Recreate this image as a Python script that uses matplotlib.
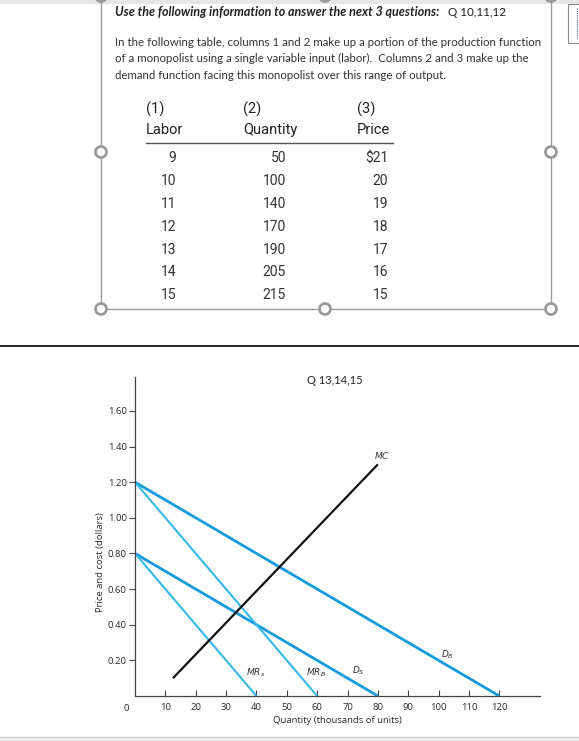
import numpy as np
import matplotlib
matplotlib.use("Agg")
import matplotlib.pyplot as plt
from matplotlib.patches import Circle, Rectangle

# table data (Q 10,11,12)
labor = [9, 10, 11, 12, 13, 14, 15]
quantity = [50, 100, 140, 170, 190, 205, 215]
price = ["$21", "20", "19", "18", "17", "16", "15"]
col_heads = ["(1)", "(2)", "(3)"]
col_names = ["Labor", "Quantity", "Price"]

# chart data (Q 13,14,15), quantity in thousands, price in dollars
db_q = [0, 120]
db_p = [1.20, 0.0]
ds_q = [0, 80]
ds_p = [0.80, 0.0]
mrb_q = [0, 60]
mrb_p = [1.20, 0.0]
mrs_q = [0, 40]
mrs_p = [0.80, 0.0]
mc_q = [12.5, 80]
mc_p = [0.10, 1.30]
xticks = [10, 20, 30, 40, 50, 60, 70, 80, 90, 100, 110, 120]
yticks = [0.20, 0.40, 0.60, 0.80, 1.00, 1.20, 1.40, 1.60]

W, H = 579, 741
fig = plt.figure(figsize=(W / 100, H / 100), dpi=100)

# page layer in pixel coordinates
deco = fig.add_axes([0, 0, 1, 1])
deco.set_xlim(0, W)
deco.set_ylim(H, 0)
deco.axis("off")

grey = "#9a9a9a"
deco.add_patch(Rectangle((0, 0), W, 4, color="#e6e6e6", lw=0))
# slide box
deco.plot([101, 101], [0, 309], color=grey, lw=1)
deco.plot([551, 551], [0, 309], color=grey, lw=1)
deco.plot([101, 551], [309, 309], color=grey, lw=1)
for cx, cy in [(101, 152), (551, 152), (101, 309), (325, 309), (551, 309),
               (101, -4), (325, -4), (551, -4)]:
    deco.add_patch(Circle((cx, cy), 5.5, fc="white", ec=grey, lw=2, zorder=5))
# small box top right
deco.add_patch(Rectangle((568, 4), 14, 39, fc="white", ec="#888888", lw=0.8))
deco.plot([577, 577], [8, 38], color="#3a66c8", lw=0.8, ls=(0, (1, 1)))

tfont = "Lato"
deco.text(115, 12, "Use the following information to answer the next 3 questions:",
          fontsize=9.0, fontweight="bold", fontstyle="italic", family=tfont,
          color="#222222", va="center")
deco.text(448, 12, "Q 10,11,12", fontsize=8.4, family=tfont, color="#222222", va="center")
para = ["In the following table, columns 1 and 2 make up a portion of the production function",
        "of a monopolist using a single variable input (labor).  Columns 2 and 3 make up the",
        "demand function facing this monopolist over this range of output."]
for i, line in enumerate(para):
    deco.text(115, 42 + i * 16.7, line, fontsize=8.25, family=tfont, color="#333333", va="center")

# table
head_x = [146, 243, 357]
right_x = [176, 286, 388]
for hx, h1, h2 in zip(head_x, col_heads, col_names):
    deco.text(hx, 109, h1, fontsize=10.5, family="Roboto", color="#222222", va="center")
    deco.text(hx, 130, h2, fontsize=10.5, family="Roboto", color="#222222", va="center")
deco.plot([146, 393], [143, 143], color="#555555", lw=1)
row_y = 158
for i in range(len(labor)):
    y = row_y + i * 22.9
    for rx, val in zip(right_x, [labor[i], quantity[i], price[i]]):
        deco.text(rx, y, str(val), fontsize=10, family="Roboto", color="#333333",
                  va="center", ha="right")

# separator lines
deco.plot([0, W], [346, 346], color="#111111", lw=1.3)
deco.plot([0, W], [737, 737], color="#cccccc", lw=1)
deco.add_patch(Rectangle((0, 738), W, 4, color="#f0f0f0", lw=0))

# chart
x0, x1, ytop, ybot = 135, 540, 377, 696
ax = fig.add_axes([x0 / W, (H - ybot) / H, (x1 - x0) / W, (ybot - ytop) / H])
ax.set_facecolor("none")
ax.set_xlim(0, 133.4)
ax.set_ylim(0, 1.79)
dark = "#139bdc"
light = "#35b8ea"
ax.plot(db_q, db_p, color=dark, lw=2.0, solid_capstyle="butt")
ax.plot(ds_q, ds_p, color=dark, lw=2.0, solid_capstyle="butt")
ax.plot(mrb_q, mrb_p, color=light, lw=1.5, solid_capstyle="butt")
ax.plot(mrs_q, mrs_p, color=light, lw=1.5, solid_capstyle="butt")
ax.plot(mc_q, mc_p, color="#111111", lw=1.6, solid_capstyle="butt")

for s in ["top", "right"]:
    ax.spines[s].set_visible(False)
for s in ["left", "bottom"]:
    ax.spines[s].set_color("#444444")
    ax.spines[s].set_linewidth(0.9)

cfont = "Open Sans"
ax.set_xticks(xticks)
ax.set_xticklabels([str(t) for t in xticks])
ax.set_yticks(yticks)
ax.set_yticklabels(["%.2f" % t for t in yticks])
ax.tick_params(axis="x", direction="in", length=4, width=0.8, color="#444444",
               labelsize=6.8, labelcolor="#2a2a2a", pad=5)
ax.tick_params(axis="y", direction="out", length=4, width=0.8, color="#444444",
               labelsize=6.8, labelcolor="#2a2a2a", pad=2)
for lab in ax.get_xticklabels() + ax.get_yticklabels():
    lab.set_family(cfont)
ax.text(-2, -0.045, "0", fontsize=6.8, family=cfont, color="#2a2a2a",
        ha="right", va="top")
ax.set_xlabel("Quantity (thousands of units)", fontsize=6.8, family=cfont,
              color="#2a2a2a", labelpad=3)
ax.set_ylabel("Price and cost (dollars)", fontsize=6.8, family=cfont,
              color="#2a2a2a")
ax.yaxis.set_label_coords(-0.075, 0.42)
deco.text(335, 381, "Q 13,14,15", fontsize=8.0, family=tfont, color="#222222",
          ha="center", va="center")

lbl = dict(fontsize=6.5, family=cfont, color="#333333", style="italic",
           ha="center", va="center")
ax.text(81.5, 1.35, "$MC$", **lbl)
ax.text(103, 0.23, "$D_B$", **lbl)
ax.text(73.5, 0.14, "$D_S$", **lbl)
ax.text(59.5, 0.13, "$MR_B$", **lbl)
ax.text(39.8, 0.13, "$MR_s$", **lbl)

fig.savefig("out.png", dpi=100)
